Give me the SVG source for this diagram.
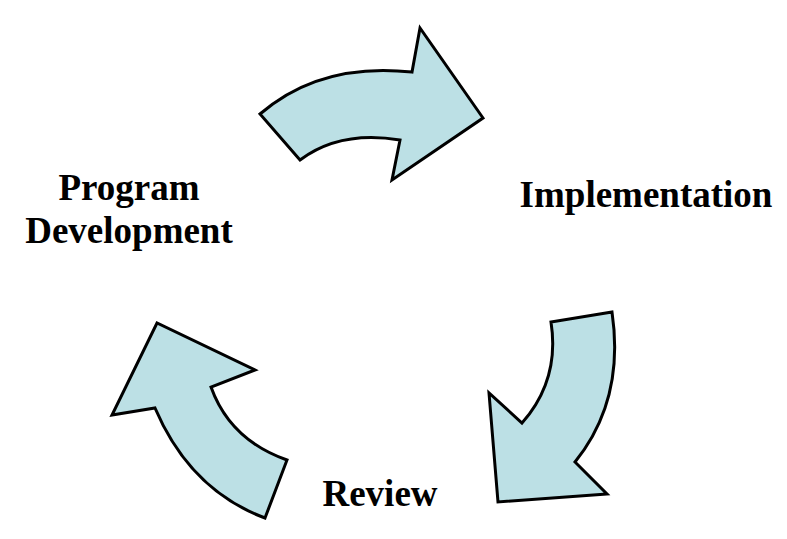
<svg xmlns="http://www.w3.org/2000/svg" width="787" height="539" viewBox="0 0 787 539">
<style>
.a{fill:#bce0e5;stroke:#000;stroke-width:3;stroke-linejoin:miter}
.t{font-family:"Liberation Serif",serif;font-weight:bold;font-size:37px;fill:#000}
</style>
<rect width="787" height="539" fill="#fff"/>
<g id="connectors">
<path class="a" d="M300,160 Q340,130 400,140 L392,180 L483,118 L420,28 L412,72 Q320,62 260,114 Z"/>
<path class="a" d="M612,312 L551,322 Q560,380 522,423 L489,393 L498,502 L607,494 L575,462 Q625,400 612,312 Z"/>
<path class="a" d="M265,518 L287,460 Q230,440 211,387 L255,370 L157,323 L112,415 L155,408 Q190,490 265,518 Z"/>
</g>
<g id="program-development"><text class="t" x="129" y="200" text-anchor="middle">Program</text><text class="t" x="129" y="243" text-anchor="middle">Development</text></g>
<g id="implementation"><text class="t" x="646" y="207" text-anchor="middle">Implementation</text></g>
<g id="review"><text class="t" x="380" y="506" text-anchor="middle">Review</text></g>
</svg>
